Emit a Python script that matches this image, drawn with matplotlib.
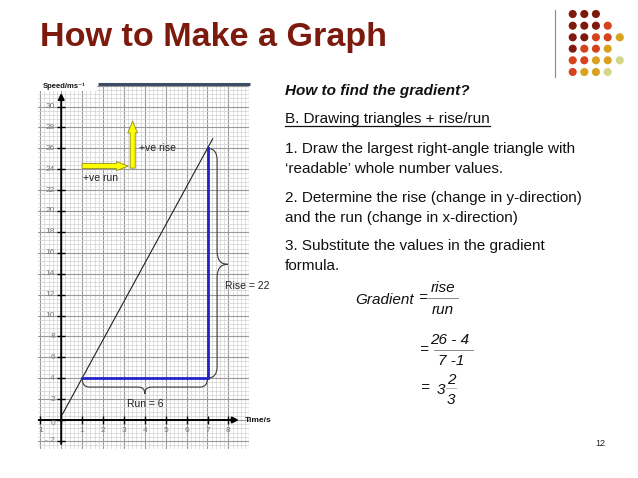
import matplotlib
matplotlib.use('Agg')
import matplotlib.pyplot as plt
import numpy as np
from matplotlib.patches import FancyArrowPatch, PathPatch, Rectangle
from matplotlib.path import Path

# ---------------- data ----------------
tri_x = [1, 7]            # run from x=1 to x=7
tri_y = [4, 26]           # rise from y=4 to y=26
line_extent = [0.05, 7.25]
x_tick_vals = [-1, 1, 2, 3, 4, 5, 6, 7, 8]
x_tick_labels = ['1', '1', '2', '3', '4', '5', '6', '7', '8']
y_tick_vals = [2, 4, 6, 8, 10, 12, 14, 16, 18, 20, 22, 24, 26, 28, 30]
y_tick_labels = [str(v) for v in y_tick_vals]
rise_label = 'Rise = 22'
run_label = 'Run = 6'

title = 'How to Make a Graph'
body_lines = [
    '1. Draw the largest right-angle triangle with',
    '\u2018readable\u2019 whole number values.',
    '2. Determine the rise (change in y-direction)',
    'and the run (change in x-direction)',
    '3. Substitute the values in the gradient',
    'formula.',
]
dot_rows = [
    ['D', 'D', 'D'],
    ['D', 'D', 'D', 'O'],
    ['D', 'D', 'O', 'O', 'G'],
    ['D', 'O', 'O', 'G'],
    ['O', 'O', 'G', 'G', 'L'],
    ['O', 'G', 'G', 'L'],
]
dot_colors = {'D': '#7e1a0d', 'O': '#d4431b', 'G': '#d9a21e', 'L': '#d5d68a'}

FONT = ['Liberation Sans', 'DejaVu Sans']
plt.rcParams['font.family'] = FONT

W, H = 638, 478
fig = plt.figure(figsize=(W / 100, H / 100), dpi=100)

# ---------------- graph axes ----------------
gl, gr, gt, gb = 38, 249, 84, 449
ax = fig.add_axes([gl / W, 1 - gb / H, (gr - gl) / W, (gb - gt) / H])
x0p, sx = 61.2, 20.9
y0p, sy = 420.0, 10.45
ax.set_xlim((gl - x0p) / sx, (gr - x0p) / sx)
ax.set_ylim((y0p - gb) / sy, (y0p - gt) / sy)
ax.axis('off')
xmin, xmax = ax.get_xlim()
ymin, ymax = ax.get_ylim()

# grid
for v in np.arange(-1, 9.01, 0.2):
    major = abs(v - round(v)) < 1e-6
    ax.axvline(v, color='#9a9a9a' if major else '#d2d2d2', lw=0.8 if major else 0.5, zorder=0)
for v in np.arange(-2.8, 32.2, 0.4):
    major = abs(v / 2 - round(v / 2)) < 1e-6
    ax.axhline(v, color='#9a9a9a' if major else '#d2d2d2', lw=0.8 if major else 0.5, zorder=0)

# axes with arrows
ax.annotate('', xy=(8.5, 0), xytext=(-1.08, 0),
            arrowprops=dict(arrowstyle='-|>', lw=1.4, color='k', mutation_scale=9,
                            shrinkA=0, shrinkB=0), zorder=3)
ax.annotate('', xy=(0, 31.3), xytext=(0, -2.3),
            arrowprops=dict(arrowstyle='-|>', lw=1.4, color='k', mutation_scale=9,
                            shrinkA=0, shrinkB=0), zorder=3)
ax.plot(list(range(-1, 9)), [0] * 10, ls='none', marker='|', ms=6, mew=1.0, color='k', zorder=3)
ax.plot([0] * 17, list(range(-2, 31, 2)), ls='none', marker='_', ms=6, mew=1.0, color='k', zorder=3)

# tick labels
for v, s in zip(x_tick_vals, x_tick_labels):
    ax.text(v, -1.02, s, ha='center', va='center', fontsize=6, color='#7a7a7a')
for v, s in zip(y_tick_vals, y_tick_labels):
    ax.text(-0.3, v, s, ha='right', va='center', fontsize=6, color='#7a7a7a')
ax.text(-0.3, -2.0, '- 2', ha='right', va='center', fontsize=6, color='#7a7a7a')
ax.text(-0.3, -0.3, '0', ha='right', va='center', fontsize=6, color='#7a7a7a')

# gradient line
slope = (tri_y[1] - tri_y[0]) / (tri_x[1] - tri_x[0])
lx = np.array(line_extent)
ax.plot(lx, tri_y[0] + slope * (lx - tri_x[0]), color='#222222', lw=0.8, zorder=4)

# triangle
ax.plot([tri_x[0], tri_x[1], tri_x[1]], [tri_y[0], tri_y[0], tri_y[1]],
        color='#2323c8', lw=2.0, zorder=5, solid_joinstyle='miter')

# braces
bc = '#3a3a3a'
bx0, bx1 = tri_x
bxm = (bx0 + bx1) / 2
by = tri_y[0] - 0.85
btip = tri_y[0] - 1.5
verts = [(bx0, tri_y[0]), (bx0, by), (bx0 + 0.35, by),
         (bxm - 0.3, by), (bxm, by), (bxm, btip),
         (bxm, by), (bxm + 0.3, by),
         (bx1 - 0.35, by), (bx1, by), (bx1, tri_y[0])]
codes = [Path.MOVETO, Path.CURVE3, Path.CURVE3,
         Path.LINETO, Path.CURVE3, Path.CURVE3,
         Path.CURVE3, Path.CURVE3,
         Path.LINETO, Path.CURVE3, Path.CURVE3]
ax.add_patch(PathPatch(Path(verts, codes), fill=False, ec=bc, lw=0.8, zorder=4))

vy0, vy1 = tri_y
vym = 14.9
vx = tri_x[1] + 0.46
vtip = tri_x[1] + 0.97
verts = [(tri_x[1], vy1), (vx, vy1), (vx, vy1 - 1.1),
         (vx, vym + 1.2), (vx, vym), (vtip, vym),
         (vx, vym), (vx, vym - 1.2),
         (vx, vy0 + 1.1), (vx, vy0), (tri_x[1], vy0)]
ax.add_patch(PathPatch(Path(verts, codes), fill=False, ec=bc, lw=0.8, zorder=4))

ax.text(bxm, 1.5, run_label, ha='center', va='center', fontsize=7.5, color='#222222', zorder=6)
ax.text(7.86, 12.8, rise_label, ha='left', va='center', fontsize=7.5, color='#222222',
        zorder=6, clip_on=False)

# yellow direction arrows
ax.add_patch(FancyArrowPatch((1.0, 24.3), (3.21, 24.3),
             arrowstyle='simple,head_length=0.85,head_width=0.65,tail_width=0.36',
             mutation_scale=10, fc='#ffff00', ec='#8c8c1e', lw=0.6,
             shrinkA=0, shrinkB=0, zorder=6))
ax.add_patch(FancyArrowPatch((3.42, 24.1), (3.42, 28.6),
             arrowstyle='simple,head_length=0.85,head_width=0.7,tail_width=0.36',
             mutation_scale=10, fc='#ffff00', ec='#8c8c1e', lw=0.6,
             shrinkA=0, shrinkB=0, zorder=6))
ax.text(3.7, 26.05, '+ve rise', ha='left', va='center', fontsize=7.5, color='#222222', zorder=6)
ax.text(1.05, 23.2, '+ve run', ha='left', va='center', fontsize=7.5, color='#222222', zorder=6)

# ---------------- page overlay ----------------
pax = fig.add_axes([0, 0, 1, 1])
pax.set_xlim(0, W)
pax.set_ylim(H, 0)
pax.axis('off')
pax.patch.set_alpha(0)
pax.set_zorder(5)

pax.add_patch(Rectangle((37, 76), 60, 15, fc='white', ec='none'))
pax.plot([98, 250], [84, 84], color='#3d4d66', lw=2.2, solid_capstyle='butt')
pax.text(43, 86, 'Speed/ms\u207b\u00b9', ha='left', va='center', fontsize=5.5,
         fontweight='bold', color='#111111', family=FONT)
pax.text(245, 420, 'Time/s', ha='left', va='center', fontsize=6, fontweight='bold', color='#111111')

# title
pax.text(40, 45.7, title, ha='left', va='baseline', fontsize=24.6, fontweight='bold', color='#7c1a0e')

# decorative dots + rule
pax.plot([555, 555], [10, 77], color='#8a8a8a', lw=0.8)
row_y = [14, 25.7, 37.3, 48.7, 60.3, 72.0]
col_x = [572.7, 584.3, 595.9, 607.7, 619.8]
for ry, row in zip(row_y, dot_rows):
    for cx, c in zip(col_x, row):
        pax.scatter([cx], [ry], s=34, color=dot_colors[c], edgecolors='none')

# right text
pax.text(285, 95, 'How to find the gradient?', ha='left', va='baseline', fontsize=11,
         fontweight='bold', fontstyle='italic', color='#111111')
tb = pax.text(285, 123, 'B. Drawing triangles + rise/run', ha='left', va='baseline',
              fontsize=11, color='#111111')
fig.canvas.draw()
bb = tb.get_window_extent(renderer=fig.canvas.get_renderer())
pax.plot([285, 285 + bb.width], [126, 126], color='#111111', lw=0.9)

body_base = [153, 173, 202, 222, 250, 270]
for yb, s in zip(body_base, body_lines):
    pax.text(285, yb, s, ha='left', va='baseline', fontsize=11, color='#111111')

# formula
fkw = dict(fontsize=11, fontstyle='italic', color='#111111')
pax.text(355, 304, 'Gradient', ha='left', va='baseline', **fkw)
pax.text(422.5, 298, '=', ha='center', va='center', **fkw)
pax.plot([428, 458], [298, 298], color='#888888', lw=0.7)
pax.text(443, 292, 'rise', ha='center', va='baseline', **fkw)
pax.text(443, 314, 'run', ha='center', va='baseline', **fkw)

pax.text(423, 350, '=', ha='center', va='center', **fkw)
pax.plot([434, 473], [350, 350], color='#888888', lw=0.7)
pax.text(450, 344, '26 - 4', ha='center', va='baseline', **fkw)
pax.text(451, 365, '7 -1', ha='center', va='baseline', **fkw)

pax.text(424, 388, '=', ha='center', va='center', **fkw)
pax.text(437, 393.5, '3', ha='left', va='baseline', **fkw)
pax.plot([446, 456], [388, 388], color='#aaaaaa', lw=0.6)
pax.text(451, 384, '2', ha='center', va='baseline', **fkw)
pax.text(451, 404, '3', ha='center', va='baseline', **fkw)

pax.text(600, 444, '12', ha='center', va='center', fontsize=6.5, color='#222222')

fig.savefig('out.png', dpi=100)
